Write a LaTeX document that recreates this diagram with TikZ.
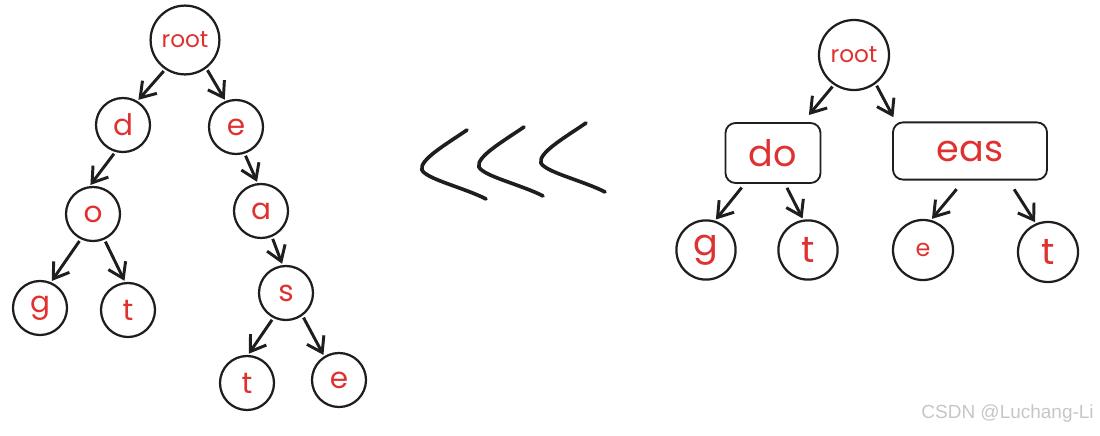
\documentclass[tikz,border=0pt]{standalone}
\usepackage{fontspec}
\setmainfont{Poppins}
\newfontfamily\markfont{Liberation Sans}
\usepackage{tikz}
\usetikzlibrary{arrows.meta}
\definecolor{inkred}{HTML}{E03131}
\definecolor{ink}{HTML}{1E1E1E}
\def\rootfont{\fontsize{16.5}{17}\selectfont}
\def\letterfont{\fontsize{21}{21}\selectfont}
\def\wordfont{\fontsize{26}{26}\selectfont}
\def\smallfont{\fontsize{17}{17}\selectfont}

\begin{document}
\begin{tikzpicture}[x=0.025cm, y=-0.025cm,
	every node/.style={text=inkred, inner sep=0pt, font=\letterfont},
	trienode/.style={circle, draw=ink, line width=1.6pt, minimum size=1.35cm},
	wordbox/.style={rectangle, rounded corners=0.25cm, draw=ink, line width=1.3pt, font=\wordfont},
	edge/.style={draw=ink, line width=2.1pt, shorten <=1.5pt, shorten >=1pt, -{Straight Barb[length=3.6mm,width=4.8mm]}},
	chevron/.style={draw=ink, line width=2.6pt, line cap=round}]
	\useasboundingbox (0,0) rectangle (1100,435);
	
	% Draw the plain trie, one letter per node
	\node[trienode, minimum size=1.72cm, font=\rootfont] (rootL) at (185,40) {root};
	\node[trienode] (d) at (123,125) {d};
	\node[trienode] (e) at (236,127) {e};
	\node[trienode] (o) at (93,214) {o};
	\node[trienode] (a) at (261,211) {a};
	\node[trienode] (g) at (40,308) {g};
	\node[trienode] (t) at (128,310) {t};
	\node[trienode] (s) at (286,293) {s};
	\node[trienode] (t2) at (247,383) {t};
	\node[trienode] (e2) at (339,380) {e};
	\foreach \from/\fa/\to/\ta in {rootL/236/d/59, rootL/307/e/112, d/254/o/97, e/288/a/97,
		o/244/g/67, o/294/t/96, a/293/s/97, s/243/t2/88, s/306/e2/122}
	{
		\draw[edge] (\from.\fa) -- (\to.\ta);
	}
	
	% Three hand drawn chevrons
	\foreach \dx/\dy in {0/0, 57/-3, 119/-7}
	{
		\draw[chevron, shift={(\dx,\dy)}] (467,130) .. controls (445,145) and (419,160) .. (422,170) .. controls (426,179) and (465,188) .. (486,199);
	}
	
	% Draw the compressed trie
	\node[trienode, minimum size=1.75cm, font=\rootfont] (rootR) at (854,55) {root};
	\node[wordbox, minimum width=2.375cm, minimum height=1.5cm] (do) at (773,153) {do};
	\node[wordbox, minimum width=3.85cm, minimum height=1.43cm] (eas) at (970,151) {eas};
	\node[trienode, minimum size=1.48cm, font=\wordfont] (gR) at (706,250) {g};
	\node[trienode, minimum size=1.48cm, font=\wordfont] (tR) at (808,250) {t};
	\node[trienode, minimum size=1.5cm, font=\smallfont] (eR) at (923,250) {e};
	\node[trienode, minimum size=1.5cm, font=\wordfont] (tR2) at (1048,252) {t};
	\draw[edge] (rootR.236) -- ([shift={(35,-6)}]do.north);
	\draw[edge] (rootR.307) -- ([shift={(2,-3)}]eas.north west);
	\draw[edge] ([shift={(-30,2)}]do.south) -- (gR.73);
	\draw[edge] ([shift={(13,2)}]do.south) -- (tR.99);
	\draw[edge] ([shift={(-12,7)}]eas.south) -- (eR.75);
	\draw[edge] ([shift={(43,7)}]eas.south) -- (tR2.113);
	
	\node[text=gray!45, font=\markfont\fontsize{13.5}{14}\selectfont, anchor=east] (mark) at (1094,414) {CSDN @Luchang-Li};
\end{tikzpicture}
\end{document}
